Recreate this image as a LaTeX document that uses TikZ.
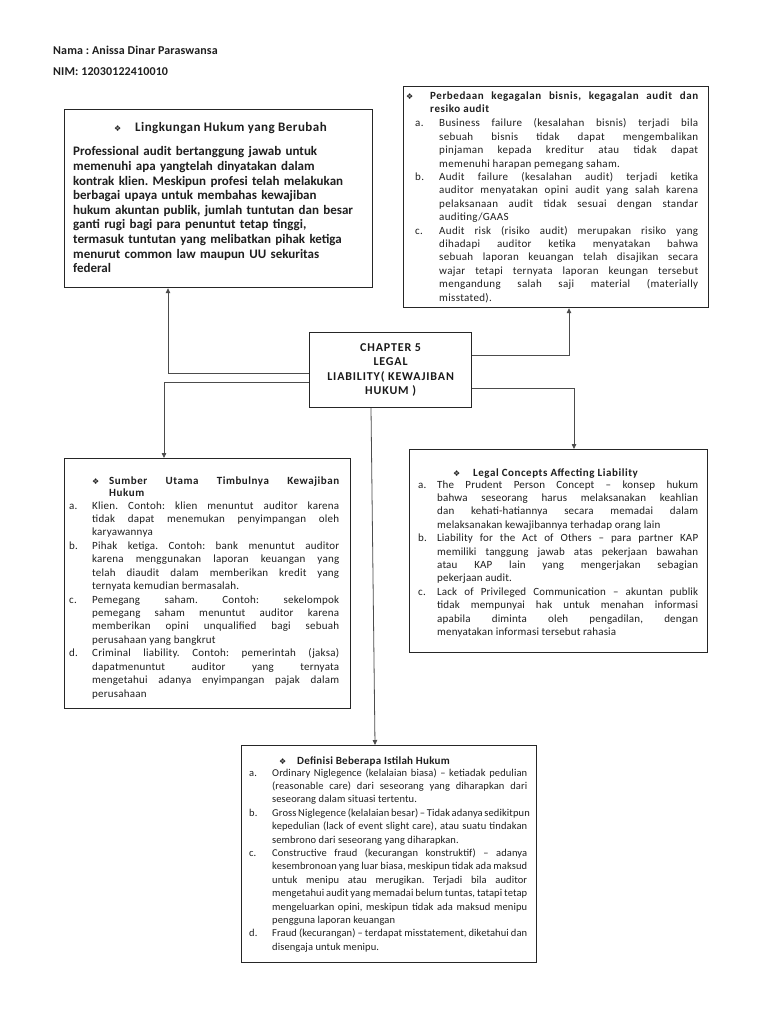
\documentclass[tikz,border=0pt]{standalone}
\usepackage{fontspec}
\setmainfont{Carlito}
\newfontfamily\dvs{DejaVu Sans}
\usetikzlibrary{arrows.meta}
\frenchspacing
\newdimen\lw
\newcommand\js{\spaceskip=\fontdimen2\font plus 1fil minus \fontdimen4\font\relax}
\newcommand\jl[1]{\hbox to\hsize{\js #1}\par}
\newcommand\fl[2]{\hbox to\hsize{\hbox to\lw{#1\hfil}\hbox to\dimexpr\hsize-\lw\relax{\js #2}}}
\newcommand\ml[1]{\hbox to\hsize{\hskip\lw\hbox to\dimexpr\hsize-\lw\relax{\js #1}}}
\newcommand\el[1]{\hbox to\hsize{\hskip\lw #1\hfil}}
\newcommand\lst[4]{\vtop{\hsize=#1\relax\lw=#2\relax\baselineskip=#3\relax\lineskiplimit=-10pt #4}}
\newcommand\bul{{\dvs\fontsize{8}{8}\selectfont ❖}}
\newcommand\ls[1]{\addfontfeature{LetterSpace=#1}}
\tikzset{
  box/.style={draw=black!85, line width=1.2pt, inner sep=0pt, anchor=north west},
  txt/.style={inner sep=0pt, anchor=base west, text=black!88},
  head/.style={txt, font=\bfseries\fontsize{11}{12.5}\selectfont\ls{5}},
  conn/.style={draw=black!70, line width=0.8pt, -{Triangle[length=5pt,width=4.5pt]}},
}
\begin{document}
\begin{tikzpicture}[x=1pt,y=-1pt]
\useasboundingbox[fill=white] (0,0) rectangle (768,1024);
% header
\node[txt, font=\bfseries\fontsize{12}{13}\selectfont\ls{1}] (nama) at (53,55) {Nama : Anissa Dinar Paraswansa};
\node[txt, font=\bfseries\fontsize{12}{13}\selectfont\ls{1}] (nim) at (53,76) {NIM: 12030122410010};
% boxes
\node[box, minimum width=308pt, minimum height=178pt] (b1) at (64,109) {};
\node[box, minimum width=305pt, minimum height=221pt] (b2) at (403,86) {};
\node[box, minimum width=162pt, minimum height=75pt] (bc) at (309,332) {};
\node[box, minimum width=286pt, minimum height=250pt] (b3) at (64,458) {};
\node[box, minimum width=298pt, minimum height=203pt] (b4) at (409,449) {};
\node[box, minimum width=295pt, minimum height=217pt] (b5) at (241,745) {};
% box 1
\node[txt] (b1bul) at (114,132) {\bul};
\node[txt, font=\bfseries\fontsize{13}{14}\selectfont\ls{3.5}] (b1h) at (135,132) {Lingkungan Hukum yang Berubah};
\node[txt, text width=300pt, align=left, font=\bfseries\fontsize{13}{14.6}\selectfont] (b1t) at (73,156)
 {Professional audit bertanggung jawab untuk\\
 memenuhi apa yangtelah dinyatakan dalam\\
 kontrak klien. Meskipun profesi telah melakukan\\
 berbagai upaya untuk membahas kewajiban\\
 hukum akuntan publik, jumlah tuntutan dan besar\\
 ganti rugi bagi para penuntut tetap tinggi,\\
 termasuk tuntutan yang melibatkan pihak ketiga\\
 menurut common law maupun UU sekuritas\\
 federal};
% box 2
\node[txt] (b2bul) at (406,100) {\bul};
\node[head] (b2h) at (430,100)
 {\lst{268pt}{0pt}{12.5pt}{\ml{Perbedaan kegagalan bisnis, kegagalan audit dan}\el{resiko audit}}};
\node[txt, font=\fontsize{11}{13.4}\selectfont\ls{3}] (b2t) at (415,127) {\lst{283pt}{24pt}{13.4pt}{%
\fl{a.}{Business failure (kesalahan bisnis) terjadi bila}
\ml{sebuah bisnis tidak dapat mengembalikan}
\ml{pinjaman kepada kreditur atau tidak dapat}
\el{memenuhi harapan pemegang saham.}
\fl{b.}{Audit failure (kesalahan audit) terjadi ketika}
\ml{auditor menyatakan opini audit yang salah karena}
\ml{pelaksanaan audit tidak sesuai dengan standar}
\el{auditing/GAAS}
\fl{c.}{Audit risk (risiko audit) merupakan risiko yang}
\ml{dihadapi auditor ketika menyatakan bahwa}
\ml{sebuah laporan keuangan telah disajikan secara}
\ml{wajar tetapi ternyata laporan keungan tersebut}
\ml{mengandung salah saji material (materially}
\el{misstated).}}};
% center
\node[align=center, text=black!90, font=\bfseries\fontsize{12}{14.5}\selectfont\ls{7}] (bct) at (bc.center)
 {CHAPTER 5\\LEGAL\\LIABILITY( KEWAJIBAN\\HUKUM )};
% box 3
\node[txt] (b3bul) at (92,484) {\bul};
\node[head] (b3h) at (109,484)
 {\lst{230pt}{0pt}{12.5pt}{\ml{Sumber Utama Timbulnya Kewajiban}\el{Hukum}}};
\node[txt, font=\fontsize{11}{13.43}\selectfont\ls{2}] (b3t) at (69,509) {\lst{270pt}{23pt}{13.43pt}{%
\fl{a.}{Klien. Contoh: klien menuntut auditor karena}
\ml{tidak dapat menemukan penyimpangan oleh}
\el{karyawannya}
\fl{b.}{Pihak ketiga. Contoh: bank menuntut auditor}
\ml{karena menggunakan laporan keuangan yang}
\ml{telah diaudit dalam memberikan kredit yang}
\el{ternyata kemudian bermasalah.}
\fl{c.}{Pemegang saham. Contoh: sekelompok}
\ml{pemegang saham menuntut auditor karena}
\ml{memberikan opini unqualified bagi sebuah}
\el{perusahaan yang bangkrut}
\fl{d.}{Criminal liability. Contoh: pemerintah (jaksa)}
\ml{dapatmenuntut auditor yang ternyata}
\ml{mengetahui adanya enyimpangan pajak dalam}
\el{perusahaan}}};
% box 4
\node[txt] (b4bul) at (453,476) {\bul};
\node[head] (b4h) at (473,476) {Legal Concepts Affecting Liability};
\node[txt, font=\fontsize{11}{13.4}\selectfont\ls{1.5}] (b4t) at (418,488) {\lst{280pt}{19pt}{13.4pt}{%
\fl{a.}{The Prudent Person Concept -- konsep hukum}
\ml{bahwa seseorang harus melaksanakan keahlian}
\ml{dan kehati-hatiannya secara memadai dalam}
\el{melaksanakan kewajibannya terhadap orang lain}
\fl{b.}{Liability for the Act of Others -- para partner KAP}
\ml{memiliki tanggung jawab atas pekerjaan bawahan}
\ml{atau KAP lain yang mengerjakan sebagian}
\el{pekerjaan audit.}
\fl{c.}{Lack of Privileged Communication -- akuntan publik}
\ml{tidak mempunyai hak untuk menahan informasi}
\ml{apabila diminta oleh pengadilan, dengan}
\el{menyatakan informasi tersebut rahasia}}};
% box 5
\node[txt] (b5bul) at (279,764) {\bul};
\node[head, font=\bfseries\fontsize{11}{12.5}\selectfont\ls{2.5}] (b5h) at (297,764) {Definisi Beberapa Istilah Hukum};
\node[txt, font=\fontsize{10.5}{13.4}\selectfont\ls{1}] (b5t) at (249,776) {\lst{278pt}{23pt}{13.4pt}{%
\fl{a.}{Ordinary Niglegence (kelalaian biasa) -- ketiadak pedulian}
\ml{(reasonable care) dari seseorang yang diharapkan dari}
\el{seseorang dalam situasi tertentu.}
\fl{b.}{Gross Niglegence (kelalaian besar) -- Tidak adanya sedikitpun}
\ml{kepedulian (lack of event slight care), atau suatu tindakan}
\el{sembrono dari seseorang yang diharapkan.}
\fl{c.}{Constructive fraud (kecurangan konstruktif) -- adanya}
\ml{kesembronoan yang luar biasa, meskipun tidak ada maksud}
\ml{untuk menipu atau merugikan. Terjadi bila auditor}
\ml{mengetahui audit yang memadai belum tuntas, tatapi tetap}
\ml{mengeluarkan opini, meskipun tidak ada maksud menipu}
\el{pengguna laporan keuangan}
\fl{d.}{Fraud (kecurangan) -- terdapat misstatement, diketahui dan}
\el{disengaja untuk menipu.}}};
% connectors
\draw[conn] (bc.west |- 0,373) -| (168,0 |- b1.south);
\draw[conn] (bc.west |- 0,382) -| (164,0 |- b3.north);
\draw[conn] (bc.east |- 0,355) -| (569,0 |- b2.south);
\draw[conn] (bc.east |- 0,388) -| (574,0 |- b4.north);
\draw[conn] (bc.south -| 371,0) -- (375,0 |- b5.north);
\end{tikzpicture}
\end{document}
